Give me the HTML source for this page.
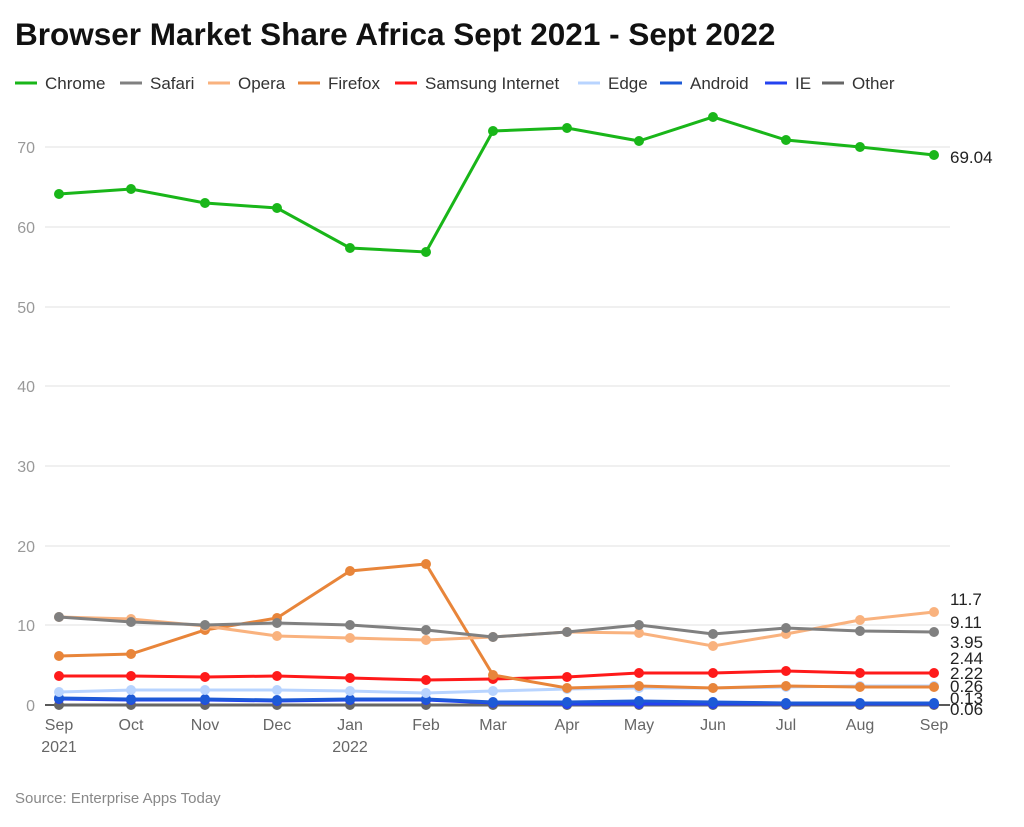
<!DOCTYPE html>
<html><head><meta charset="utf-8"><style>
body{margin:0;background:#fff;width:1024px;height:822px;overflow:hidden;font-family:"Liberation Sans",sans-serif}
</style></head><body>
<svg width="1024" height="822" xmlns="http://www.w3.org/2000/svg" font-family="Liberation Sans, sans-serif">
<defs>
<marker id="m0" viewBox="0 0 10 10" refX="5" refY="5" markerWidth="10" markerHeight="10" markerUnits="userSpaceOnUse"><circle cx="5" cy="5" r="5" fill="#666"/></marker>
<marker id="m1" viewBox="0 0 10 10" refX="5" refY="5" markerWidth="10" markerHeight="10" markerUnits="userSpaceOnUse"><circle cx="5" cy="5" r="5" fill="#2442f0"/></marker>
<marker id="m2" viewBox="0 0 10 10" refX="5" refY="5" markerWidth="10" markerHeight="10" markerUnits="userSpaceOnUse"><circle cx="5" cy="5" r="5" fill="#1d5ad6"/></marker>
<marker id="m3" viewBox="0 0 10 10" refX="5" refY="5" markerWidth="10" markerHeight="10" markerUnits="userSpaceOnUse"><circle cx="5" cy="5" r="5" fill="#b8d4ff"/></marker>
<marker id="m4" viewBox="0 0 10 10" refX="5" refY="5" markerWidth="10" markerHeight="10" markerUnits="userSpaceOnUse"><circle cx="5" cy="5" r="5" fill="#ff1a1a"/></marker>
<marker id="m5" viewBox="0 0 10 10" refX="5" refY="5" markerWidth="10" markerHeight="10" markerUnits="userSpaceOnUse"><circle cx="5" cy="5" r="5" fill="#e8853a"/></marker>
<marker id="m6" viewBox="0 0 10 10" refX="5" refY="5" markerWidth="10" markerHeight="10" markerUnits="userSpaceOnUse"><circle cx="5" cy="5" r="5" fill="#f9b27e"/></marker>
<marker id="m7" viewBox="0 0 10 10" refX="5" refY="5" markerWidth="10" markerHeight="10" markerUnits="userSpaceOnUse"><circle cx="5" cy="5" r="5" fill="#808080"/></marker>
<marker id="m8" viewBox="0 0 10 10" refX="5" refY="5" markerWidth="10" markerHeight="10" markerUnits="userSpaceOnUse"><circle cx="5" cy="5" r="5" fill="#19b619"/></marker>
</defs>
<text x="15" y="45" font-size="31.5" font-weight="bold" fill="#111">Browser Market Share Africa Sept 2021 - Sept 2022</text>
<g font-size="17" fill="#333">
<line x1="15" y1="83" x2="37" y2="83" stroke="#19b619" stroke-width="3"/><text x="45" y="89">Chrome</text>
<line x1="120" y1="83" x2="142" y2="83" stroke="#808080" stroke-width="3"/><text x="150" y="89">Safari</text>
<line x1="208" y1="83" x2="230" y2="83" stroke="#f9b27e" stroke-width="3"/><text x="238" y="89">Opera</text>
<line x1="298" y1="83" x2="320" y2="83" stroke="#e8853a" stroke-width="3"/><text x="328" y="89">Firefox</text>
<line x1="395" y1="83" x2="417" y2="83" stroke="#ff1a1a" stroke-width="3"/><text x="425" y="89">Samsung Internet</text>
<line x1="578" y1="83" x2="600" y2="83" stroke="#b8d4ff" stroke-width="3"/><text x="608" y="89">Edge</text>
<line x1="660" y1="83" x2="682" y2="83" stroke="#1d5ad6" stroke-width="3"/><text x="690" y="89">Android</text>
<line x1="765" y1="83" x2="787" y2="83" stroke="#2442f0" stroke-width="3"/><text x="795" y="89">IE</text>
<line x1="822" y1="83" x2="844" y2="83" stroke="#666" stroke-width="3"/><text x="852" y="89">Other</text>
</g>
<g stroke="#e0e0e0" stroke-width="1">
<line x1="45" y1="147" x2="950" y2="147"/><line x1="45" y1="227" x2="950" y2="227"/><line x1="45" y1="307" x2="950" y2="307"/><line x1="45" y1="386" x2="950" y2="386"/><line x1="45" y1="466" x2="950" y2="466"/><line x1="45" y1="546" x2="950" y2="546"/><line x1="45" y1="625" x2="950" y2="625"/>
</g>
<g font-size="16" fill="#999" text-anchor="end">
<text x="35" y="153">70</text><text x="35" y="233">60</text><text x="35" y="313">50</text><text x="35" y="392">40</text><text x="35" y="472">30</text><text x="35" y="552">20</text><text x="35" y="631">10</text><text x="35" y="711">0</text>
</g>
<g font-size="16" fill="#666" text-anchor="middle">
<text x="59" y="730">Sep</text><text x="59" y="752">2021</text><text x="131" y="730">Oct</text><text x="205" y="730">Nov</text><text x="277" y="730">Dec</text><text x="350" y="730">Jan</text><text x="350" y="752">2022</text><text x="426" y="730">Feb</text><text x="493" y="730">Mar</text><text x="567" y="730">Apr</text><text x="639" y="730">May</text><text x="713" y="730">Jun</text><text x="786" y="730">Jul</text><text x="860" y="730">Aug</text><text x="934" y="730">Sep</text>
</g>
<line x1="45" y1="705" x2="950" y2="705" stroke="#222" stroke-width="1.5"/>
<g fill="none" stroke-width="3">
<polyline stroke="#666" marker-start="url(#m0)" marker-mid="url(#m0)" marker-end="url(#m0)" points="59,705 131,705 205,705 277,705 350,705 426,705 493,705 567,705 639,705 713,705 786,705 860,705 934,705"/>
<polyline stroke="#2442f0" marker-start="url(#m1)" marker-mid="url(#m1)" marker-end="url(#m1)" points="59,699 131,700 205,700 277,701 350,700 426,700 493,703 567,704 639,704 713,704 786,704 860,704 934,704"/>
<polyline stroke="#1d5ad6" marker-start="url(#m2)" marker-mid="url(#m2)" marker-end="url(#m2)" points="59,698 131,699 205,699 277,700 350,699 426,699 493,702 567,702 639,701 713,702 786,703 860,703 934,703"/>
<polyline stroke="#b8d4ff" marker-start="url(#m3)" marker-mid="url(#m3)" marker-end="url(#m3)" points="59,692 131,690 205,690 277,690 350,691 426,693 493,691 567,689 639,688 713,688 786,687 860,686 934,686"/>
<polyline stroke="#ff1a1a" marker-start="url(#m4)" marker-mid="url(#m4)" marker-end="url(#m4)" points="59,676 131,676 205,677 277,676 350,678 426,680 493,679 567,677 639,673 713,673 786,671 860,673 934,673"/>
<polyline stroke="#e8853a" marker-start="url(#m5)" marker-mid="url(#m5)" marker-end="url(#m5)" points="59,656 131,654 205,630 277,618 350,571 426,564 493,675 567,688 639,686 713,688 786,686 860,687 934,687"/>
<polyline stroke="#f9b27e" marker-start="url(#m6)" marker-mid="url(#m6)" marker-end="url(#m6)" points="59,617 131,619 205,626 277,636 350,638 426,640 493,637 567,632 639,633 713,646 786,634 860,620 934,612"/>
<polyline stroke="#808080" marker-start="url(#m7)" marker-mid="url(#m7)" marker-end="url(#m7)" points="59,617 131,622 205,625 277,623 350,625 426,630 493,637 567,632 639,625 713,634 786,628 860,631 934,632"/>
<polyline stroke="#19b619" marker-start="url(#m8)" marker-mid="url(#m8)" marker-end="url(#m8)" points="59,194 131,189 205,203 277,208 350,248 426,252 493,131 567,128 639,141 713,117 786,140 860,147 934,155"/>
</g>
<g font-size="17" fill="#222">
<text x="950" y="163">69.04</text>
<text x="950" y="605">11.7</text><text x="950" y="628">9.11</text><text x="950" y="648">3.95</text><text x="950" y="664">2.44</text><text x="950" y="679">2.22</text><text x="950" y="692">0.26</text><text x="950" y="704">0.13</text><text x="950" y="715">0.06</text>
</g>
<text x="15" y="803" font-size="15" fill="#888">Source: Enterprise Apps Today</text>
</svg>
</body></html>
